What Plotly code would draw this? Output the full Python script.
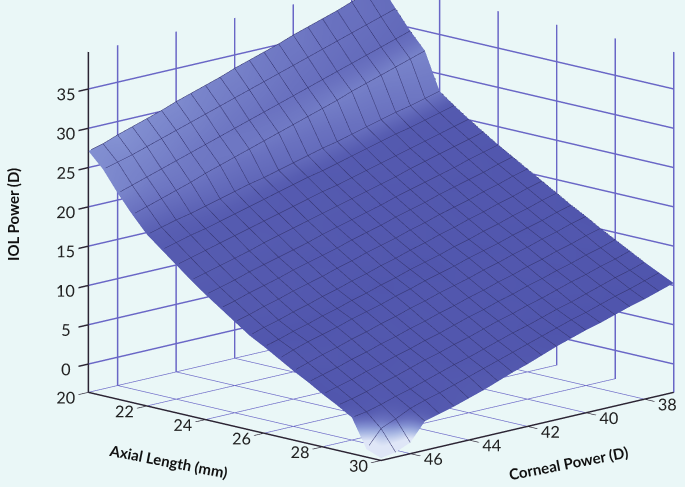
import numpy as np
import plotly.graph_objects as go

corneal_power = [37 + 0.5 * i for i in range(21)]
axial_length = [20 + 0.5 * i for i in range(21)]
iol_power = [
 [39.5,38.9,38.3,37.6,37.0,36.4,35.8,35.1,34.5,33.9,33.3,32.6,32.0,31.4,30.8,30.1,29.5,28.9,28.3,27.6,27.1],
 [37.0,36.4,35.8,35.2,34.6,34.0,33.4,32.8,32.2,31.6,31.0,30.4,29.8,29.2,28.6,28.0,27.4,26.8,26.2,25.7,25.2],
 [34.6,34.0,33.4,32.8,32.2,31.6,31.0,30.4,29.8,29.2,28.6,28.0,27.4,26.8,26.2,25.6,25.0,24.4,23.8,23.2,22.6],
 [32.5,31.9,31.3,30.7,30.1,29.5,28.8,28.2,27.6,27.0,26.4,25.8,25.2,24.6,24.0,23.4,22.7,22.1,21.5,20.9,20.3],
 [27.8,27.3,26.8,26.4,25.9,25.4,24.9,24.4,24.0,23.5,23.0,22.5,22.0,21.6,21.1,20.6,20.1,19.6,19.2,18.7,18.2],
 [26.4,25.9,25.4,24.9,24.5,24.0,23.5,23.0,22.5,22.0,21.6,21.1,20.6,20.1,19.6,19.1,18.6,18.1,17.7,17.2,16.7],
 [25.1,24.6,24.1,23.6,23.1,22.6,22.1,21.6,21.1,20.6,20.2,19.7,19.2,18.7,18.2,17.7,17.2,16.7,16.2,15.7,15.2],
 [23.9,23.4,22.9,22.4,21.9,21.4,20.8,20.3,19.8,19.3,18.8,18.3,17.8,17.3,16.8,16.3,15.7,15.2,14.7,14.2,13.7],
 [22.7,22.2,21.7,21.1,20.6,20.1,19.6,19.1,18.5,18.0,17.5,17.0,16.5,15.9,15.4,14.9,14.4,13.9,13.3,12.8,12.3],
 [21.6,21.1,20.5,20.0,19.5,19.0,18.4,17.9,17.4,16.8,16.3,15.8,15.2,14.7,14.2,13.7,13.1,12.6,12.1,11.5,11.0],
 [20.5,20.0,19.4,18.9,18.3,17.8,17.3,16.7,16.2,15.6,15.1,14.6,14.0,13.5,12.9,12.4,11.9,11.3,10.8,10.2,9.7],
 [19.4,18.9,18.3,17.8,17.2,16.7,16.1,15.6,15.0,14.5,13.9,13.4,12.8,12.3,11.7,11.2,10.6,10.1,9.5,9.0,8.4],
 [18.3,17.8,17.2,16.7,16.1,15.6,15.0,14.5,13.9,13.4,12.9,12.3,11.8,11.2,10.7,10.1,9.6,9.0,8.5,7.9,7.4],
 [17.2,16.7,16.1,15.6,15.1,14.5,14.0,13.5,12.9,12.4,11.9,11.3,10.8,10.2,9.7,9.2,8.6,8.1,7.6,7.0,6.3],
 [16.2,15.7,15.1,14.6,14.0,13.5,12.9,12.4,11.8,11.3,10.8,10.2,9.7,9.1,8.6,8.0,7.5,6.9,6.4,5.8,5.2],
 [15.1,14.6,14.0,13.5,12.9,12.4,11.8,11.3,10.7,10.2,9.6,9.1,8.5,8.0,7.4,6.9,6.3,5.8,5.2,4.7,4.2],
 [14.1,13.5,13.0,12.4,11.9,11.3,10.8,10.2,9.7,9.1,8.6,8.0,7.4,6.9,6.3,5.8,5.2,4.7,4.1,3.6,3.1],
 [13.1,12.5,12.0,11.4,10.9,10.3,9.7,9.2,8.6,8.1,7.5,6.9,6.4,5.8,5.3,4.7,4.1,3.6,3.0,2.5,2.1],
 [12.1,11.5,11.0,10.4,9.8,9.2,8.7,8.1,7.5,7.0,6.4,5.8,5.2,4.7,4.1,3.5,2.9,2.4,1.8,1.3,1.0],
 [11.2,10.6,10.0,9.5,8.9,8.3,7.8,7.2,6.6,6.0,5.4,4.8,4.2,3.6,3.0,2.4,1.9,1.3,0.4,-0.4,-2.6],
 [10.3,9.7,9.1,8.6,8.0,7.4,6.9,6.3,5.7,5.0,4.3,3.7,3.0,2.3,1.7,1.1,0.6,0.1,-2.2,-3.0,-3.3],
]
z_ticks = [0, 5, 10, 15, 20, 25, 30, 35]
corneal_ticks = [38, 40, 42, 44, 46]
axial_ticks = [20, 22, 24, 26, 28, 30]

z = np.array(iol_power)
shade = np.abs(np.gradient(z, 0.5, axis=0)) + 0.8 * np.abs(np.gradient(z, 0.5, axis=1))
rows, cols = np.indices(z.shape)
shade = shade + 0.2 * cols * np.clip(4 - rows, 0, 4) / 4 + np.clip(0.5 - z, 0, None) * 3

GRID = "#6966c6"
AXIS = "#2b2433"
FONT = "Lato"

def axis(vals, rng):
    return dict(title=dict(text=""),
                range=rng, tickvals=vals, ticktext=[str(v) for v in vals], tickangle=0,
                tickfont=dict(size=14, color="#222", family=FONT),
                showgrid=True, gridcolor=GRID, gridwidth=3,
                showline=True, linecolor=AXIS, linewidth=3,
                ticks="outside", ticklen=14, tickcolor=AXIS, tickwidth=3,
                showbackground=False, zeroline=False, showspikes=False)

def title(text, x, y, angle):
    return dict(text=f"<b>{text}</b>", x=x / 685, y=1 - y / 487, xref="paper", yref="paper",
                showarrow=False, textangle=angle, xanchor="center", yanchor="middle",
                font=dict(size=15, color="#111", family=FONT))

fig = go.Figure(go.Surface(
    x=corneal_power, y=axial_length, z=iol_power,
    surfacecolor=shade, cmin=2.5, cmax=14,
    colorscale=[[0, "#4f54ac"], [0.15, "#585eb2"], [0.35, "#6a72c0"], [0.55, "#8593d3"], [0.75, "#a9b8e4"], [1, "#dfe6f7"]],
    showscale=False, hoverinfo="skip",
    lighting=dict(ambient=1, diffuse=0, specular=0, roughness=1, fresnel=0),
    contours=dict(
        x=dict(show=True, start=37, end=47, size=0.5, color="#34346f", width=1, highlight=False),
        y=dict(show=True, start=20, end=30, size=0.5, color="#34346f", width=1, highlight=False),
        z=dict(show=False, highlight=False),
    ),
))
cx, cy, cz = 0.112, -0.112, -0.09
fig.update_layout(
    width=685, height=487,
    margin=dict(l=0, r=0, t=0, b=0),
    paper_bgcolor="#eaf7f7",
    showlegend=False,
    annotations=[
        title("Axial Length (mm)", 168, 461, 11),
        title("Corneal Power (D)", 568, 463, -11),
        title("IOL Power (D)", 13, 215, -90),
    ],
    scene=dict(
        domain=dict(x=[0, 1], y=[0, 1]),
        xaxis=axis(corneal_ticks, [37, 47]),
        yaxis=axis(axial_ticks, [20, 30]),
        zaxis=axis(z_ticks, [-3.6, 39.7]),
        aspectmode="manual",
        aspectratio=dict(x=1.7, y=1.7, z=1.437),
        bgcolor="rgba(0,0,0,0)",
        camera=dict(
            projection=dict(type="orthographic"),
            eye=dict(x=cx + 1.3, y=cy + 1.3, z=cz + 0.44),
            center=dict(x=cx, y=cy, z=cz),
            up=dict(x=0, y=0, z=1),
        ),
    ),
)
fig.write_html("out.html", config={"displayModeBar": False},
               post_script="document.body.style.margin='0';document.body.style.background='#eaf7f7';")
